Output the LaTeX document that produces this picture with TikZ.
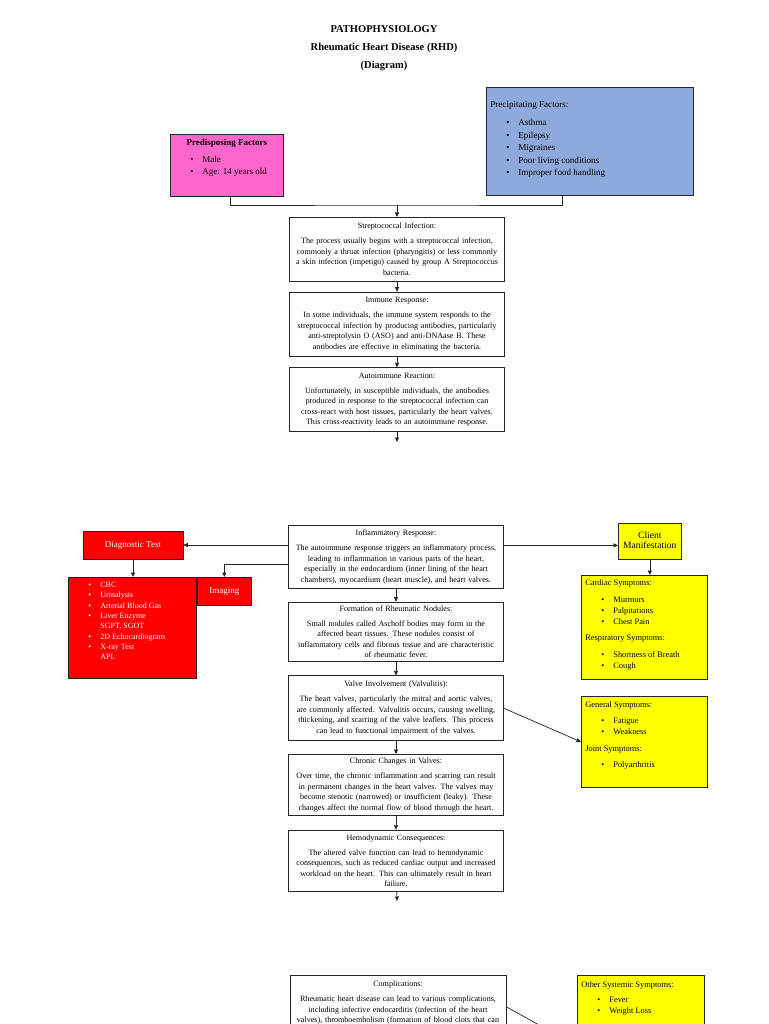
\documentclass[tikz,border=0pt]{standalone}
\usepackage{fontspec}
\setmainfont{Liberation Serif}
\usetikzlibrary{positioning,arrows.meta}

\definecolor{pinkbox}{HTML}{FF66CC}
\definecolor{bluebox}{HTML}{8EA9DB}
\definecolor{redbox}{HTML}{FF0000}
\definecolor{yellowbox}{HTML}{FFFF00}

\newcommand{\bitem}[1]{\hspace*{16pt}\makebox[12pt][l]{\textbullet}#1}
\newcommand{\flowfont}{\fontsize{8.1}{10.5}\selectfont}
\newcommand{\listfont}{\fontsize{8.4}{11}\selectfont}

\tikzset{
	flowbox/.style={draw=black!85,line width=0.7pt,fill=white,align=center,text width=210pt,inner sep=2.5pt,font=\flowfont,anchor=north},
	sidebox/.style={draw=black!85,line width=0.7pt,inner sep=4pt,anchor=north west},
	link/.style={line width=0.7pt,black!85}
}

\begin{document}
\begin{tikzpicture}[x=1pt,y=-1pt,>={Triangle[length=4.5pt,width=4pt]}]
		\clip (0,0) rectangle (768,1024);
		\fill[white] (0,0) rectangle (768,1024);
		% heading
		\node(title) [font=\fontsize{10.5}{18}\selectfont\bfseries,align=center] at (384,48) {PATHOPHYSIOLOGY\\Rheumatic Heart Disease (RHD)\\(Diagram)};

		% factors
		\node(pre) [sidebox,fill=pinkbox] at (170,134) {\parbox[c][54pt][t]{105pt}{\fontsize{9}{12}\selectfont
			\vspace*{1pt}\centering\textbf{Predisposing Factors}\\[5pt]
			\raggedright\bitem{Male}\\
			\bitem{Age: 14 years old}}};
		\node(prec) [sidebox,fill=bluebox] at (486,87) {\parbox[c][100pt][t]{199pt}{\fontsize{9.1}{12.5}\selectfont
			\vspace*{10pt}\raggedright Precipitating Factors:\\[6pt]
			\bitem{Asthma}\\
			\bitem{Epilepsy}\\
			\bitem{Migraines}\\
			\bitem{Poor living conditions}\\
			\bitem{Improper food handling}}};
		\coordinate(join) at (397,205);

		% first part of the chain
		\node(strep) [flowbox,minimum height=64] at (397,217) {Streptococcal Infection:\\[4.5pt]
			The process usually begins with a streptococcal infection,\\
			commonly a throat infection (pharyngitis) or less commonly\\
			a skin infection (impetigo) caused by group A Streptococcus\\
			bacteria.};
		\node(immune) [flowbox,minimum height=64,below=10pt of strep] {Immune Response:\\[4.5pt]
			In some individuals, the immune system responds to the\\
			streptococcal infection by producing antibodies, particularly\\
			anti-streptolysin O (ASO) and anti-DNAase B. These\\
			antibodies are effective in eliminating the bacteria.};
		\node(autoimm) [flowbox,minimum height=64,below=11pt of immune] {Autoimmune Reaction:\\[4.5pt]
			Unfortunately, in susceptible individuals, the antibodies\\
			produced in response to the streptococcal infection can\\
			cross-react with host tissues, particularly the heart valves.\\
			This cross-reactivity leads to an autoimmune response.};
		\coordinate(autoend) at (397,442);

		% second part of the chain
		\node(inflam) [flowbox,minimum height=63] at (396,525) {Inflammatory Response:\\[4.5pt]
			The autoimmune response triggers an inflammatory process,\\
			leading to inflammation in various parts of the heart,\\
			especially in the endocardium (inner lining of the heart\\
			chambers), myocardium (heart muscle), and heart valves.};
		\node(nodules) [flowbox,minimum height=59,below=13pt of inflam] {Formation of Rheumatic Nodules:\\[4.5pt]
			Small nodules called Aschoff bodies may form in the\\
			affected heart tissues. These nodules consist of\\
			inflammatory cells and fibrous tissue and are characteristic\\
			of rheumatic fever.};
		\node(valve) [flowbox,minimum height=65,below=14pt of nodules] {Valve Involvement (Valvulitis):\\[4.5pt]
			The heart valves, particularly the mitral and aortic valves,\\
			are commonly affected. Valvulitis occurs, causing swelling,\\
			thickening, and scarring of the valve leaflets. This process\\
			can lead to functional impairment of the valves.};
		\node(chronic) [flowbox,minimum height=61,below=13pt of valve] {Chronic Changes in Valves:\\[4.5pt]
			Over time, the chronic inflammation and scarring can result\\
			in permanent changes in the heart valves. The valves may\\
			become stenotic (narrowed) or insufficient (leaky). These\\
			changes affect the normal flow of blood through the heart.};
		\node(hemo) [flowbox,minimum height=61,below=14pt of chronic] {Hemodynamic Consequences:\\[4.5pt]
			The altered valve function can lead to hemodynamic\\
			consequences, such as reduced cardiac output and increased\\
			workload on the heart. This can ultimately result in heart\\
			failure.};
		\coordinate(hemoend) at (397,901);
		\node(compl) [flowbox,text width=211pt] at (398,975) {\parbox[c][70pt][t]{211pt}{\centering
			\vspace*{3pt}Complications:\\[5pt]
			Rheumatic heart disease can lead to various complications,\\
			including infective endocarditis (infection of the heart\\
			valves), thromboembolism (formation of blood clots that can}};
		\coordinate(complend) at (577,1046);

		% diagnostic side
		\node(diag) [sidebox,fill=redbox,text=white,anchor=center,minimum width=100,minimum height=28,font=\fontsize{9}{11}\selectfont] at (133,545) {Diagnostic Test};
		\node(tests) [sidebox,fill=redbox,text=white] at (68,577) {\parbox[c][93pt][t]{120pt}{\fontsize{8}{10.3}\selectfont\raggedright
			\vspace*{1pt}\bitem{CBC}\\
			\bitem{Urinalysis}\\
			\bitem{Arterial Blood Gas}\\
			\bitem{Liver Enzyme}\\
			\hspace*{28pt}SGPT, SGOT\\
			\bitem{2D Echocardiogram}\\
			\bitem{X-ray Test}\\
			\hspace*{28pt}APL}};
		\node(imaging) [sidebox,fill=redbox,text=white,minimum width=54,minimum height=28,font=\fontsize{9}{11}\selectfont] at (197,577) {Imaging};

		% client side
		\node(client) [sidebox,fill=yellowbox,anchor=north west,align=center,minimum width=63,minimum height=36,inner sep=1pt,font=\fontsize{9.6}{12.5}\selectfont] at (618,523) {\raisebox{3pt}{\shortstack{Client\\Manifestation}}};
		\node(cardiac) [sidebox,fill=yellowbox] at (581,575) {\parbox[c][96pt][t]{118pt}{\listfont\raggedright
			Cardiac Symptoms:\\[6pt]
			\bitem{Murmurs}\\
			\bitem{Palpitations}\\
			\bitem{Chest Pain}\\[5pt]
			Respiratory Symptoms:\\[6pt]
			\bitem{Shortness of Breath}\\
			\bitem{Cough}}};
		\node(general) [sidebox,fill=yellowbox] at (581,696) {\parbox[c][83pt][t]{118pt}{\listfont\raggedright
			\vspace*{1pt}General Symptoms:\\[5pt]
			\bitem{Fatigue}\\
			\bitem{Weakness}\\[6pt]
			Joint Symptoms:\\[5pt]
			\bitem{Polyarthritis}}};
		\node(other) [sidebox,fill=yellowbox] at (577,975) {\parbox[c][72pt][t]{119pt}{\listfont\raggedright
			\vspace*{2.5pt}Other Systemic Symptoms:\\[4pt]
			\bitem{Fever}\\
			\bitem{Weight Loss}}};

		% connectors
		\draw[link] ([xshift=3]pre.south) |- (join) -| ([xshift=-28]prec.south);
		\path[link,->]
			(join) edge (strep.north)
			(strep) edge (immune)
			(immune) edge (autoimm)
			(autoimm) edge (autoend)
			(inflam) edge (nodules)
			(nodules) edge (valve)
			(valve) edge (chronic)
			(chronic) edge (hemo)
			(hemo) edge (hemoend)
			(inflam.west |- diag.east) edge (diag.east)
			(diag.south) edge (diag.south |- tests.north)
			([yshift=-4]client.west -| inflam.east) edge ([yshift=-4]client.west)
			(client.south) edge (client.south |- cardiac.north)
			(valve.east) edge (general.west);
		\draw[link,->] ([yshift=-7]inflam.west) -| (imaging.north);
		\draw[link,->] ([yshift=6]compl.east) -- (complend);
	\end{tikzpicture}
\end{document}
